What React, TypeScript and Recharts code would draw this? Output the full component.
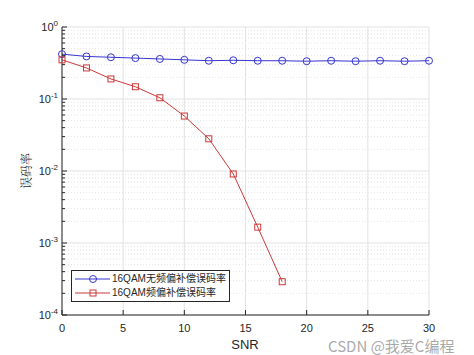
import { LineChart, Line, XAxis, YAxis, CartesianGrid, ReferenceLine } from 'recharts'

const snr = [0, 2, 4, 6, 8, 10, 12, 14, 16, 18, 20, 22, 24, 26, 28, 30]
// BER without frequency-offset compensation
const berNoComp = [0.42, 0.39, 0.38, 0.37, 0.36, 0.35, 0.34, 0.345, 0.34, 0.34, 0.335, 0.34, 0.335, 0.34, 0.335, 0.34]
// BER with compensation (ends at 18 dB)
const berComp = [0.35, 0.27, 0.19, 0.148, 0.104, 0.058, 0.028, 0.0091, 0.00166, 0.00029]

const xTicks = [0, 5, 10, 15, 20, 25, 30]
const decades = [1e-4, 1e-3, 1e-2, 1e-1, 1]
const minors = decades.slice(0, -1).flatMap(d => [2, 3, 4, 5, 6, 7, 8, 9].map(m => d * m))
const yTicks = [...decades, ...minors].sort((a, b) => a - b)

const names = ['16QAM无频偏补偿误码率', '16QAM频偏补偿误码率']

const data = snr.map((s, i) => ({
  snr: s,
  noComp: berNoComp[i],
  comp: berComp[i] ?? null,
}))

const BLUE = '#3535d2'
const RED = '#cc3838'
const AX = '#262626'
const FONT = '"Liberation Sans", Arial, "Noto Sans CJK SC", sans-serif'

const CircleDot = (p: any) =>
  p.cx == null || p.cy == null || p.value == null ? <g key={p.key} /> : (
    <circle key={p.key} cx={p.cx} cy={p.cy} r={3.5} fill="none" stroke={BLUE} strokeWidth={1} />
  )

const SquareDot = (p: any) =>
  p.cx == null || p.cy == null || p.value == null ? <g key={p.key} /> : (
    <rect key={p.key} x={p.cx - 3} y={p.cy - 3} width={6} height={6} fill="none" stroke={RED} strokeWidth={1} />
  )

const isDecade = (v: number) => decades.includes(v)

const YTickLeft = ({ x, y, payload }: any) => {
  const v = payload.value
  const major = isDecade(v)
  return (
    <g>
      <line x1={x} x2={x + (major ? 5 : 3)} y1={y} y2={y} stroke={AX} />
      {major && (
        <text x={x - 4} y={y + 4} textAnchor="end" fontSize={11} fill={AX} fontFamily={FONT}>
          10<tspan dy={-5} fontSize={8}>{Math.round(Math.log10(v))}</tspan>
        </text>
      )}
    </g>
  )
}

const YTickRight = ({ x, y, payload }: any) => {
  const major = isDecade(payload.value)
  return <line x1={x} x2={x - (major ? 5 : 3)} y1={y} y2={y} stroke={AX} />
}

const XTickBottom = ({ x, y, payload }: any) => (
  <g>
    <line x1={x} x2={x} y1={y} y2={y - 5} stroke={AX} />
    <text x={x} y={y + 17} textAnchor="middle" fontSize={11} fill={AX} fontFamily={FONT}>
      {payload.value}
    </text>
  </g>
)

const XTickTop = ({ x, y }: any) => <line x1={x} x2={x} y1={y} y2={y + 5} stroke={AX} />

const LegendBox = () => (
  <div
    style={{
      position: 'absolute',
      left: 63,
      top: 262,
      width: 157,
      border: `1px solid ${AX}`,
      background: '#fff',
      padding: '1px 0 1px 0',
      fontFamily: FONT,
      fontSize: 10,
      color: AX,
      lineHeight: '14px',
      whiteSpace: 'nowrap',
    }}
  >
    {names.map((n, i) => (
      <div key={n} style={{ display: 'flex', alignItems: 'center', height: 14 }}>
        <svg width={37} height={14} style={{ marginLeft: 3, flex: 'none' }}>
          <line x1={0} x2={35} y1={7} y2={7} stroke={i === 0 ? BLUE : RED} />
          {i === 0 ? (
            <circle cx={18} cy={7} r={3.5} fill="none" stroke={BLUE} />
          ) : (
            <rect x={15} y={4} width={6} height={6} fill="none" stroke={RED} />
          )}
        </svg>
        <span>{n}</span>
      </div>
    ))}
  </div>
)

export default function App() {
  return (
    <div style={{ position: 'relative', width: 466, height: 347 }}>
      <LineChart width={466} height={347} data={data} margin={{ top: 19, right: 45, bottom: 0, left: 0 }}>
        <CartesianGrid horizontal={false} stroke="#e2e2e2" />
        {minors.map(v => (
          <ReferenceLine key={v} y={v} stroke="#e4e4e4" strokeDasharray="1 2" />
        ))}
        {decades.map(v => (
          <ReferenceLine key={'d' + v} y={v} stroke="#e2e2e2" />
        ))}
        <XAxis
          dataKey="snr"
          type="number"
          domain={[0, 30]}
          ticks={xTicks}
          interval={0}
          height={40}
          tickSize={0}
          tickMargin={0}
          stroke={AX}
          tick={<XTickBottom />}
        />
        <XAxis
          xAxisId="t"
          orientation="top"
          type="number"
          domain={[0, 30]}
          ticks={xTicks}
          interval={0}
          height={0}
          tickSize={0}
          tickMargin={0}
          stroke={AX}
          tick={<XTickTop />}
        />
        <YAxis
          scale="log"
          domain={[1e-4, 1]}
          allowDataOverflow
          ticks={yTicks}
          interval={0}
          width={54}
          tickSize={0}
          tickMargin={0}
          stroke={AX}
          tick={<YTickLeft />}
        />
        <YAxis
          yAxisId="r"
          orientation="right"
          scale="log"
          domain={[1e-4, 1]}
          allowDataOverflow
          ticks={yTicks}
          interval={0}
          width={0}
          tickSize={0}
          tickMargin={0}
          stroke={AX}
          tick={<YTickRight />}
        />
        <Line
          dataKey="noComp"
          name={names[0]}
          stroke={BLUE}
          strokeWidth={1}
          dot={<CircleDot />}
          isAnimationActive={false}
        />
        <Line
          dataKey="comp"
          name={names[1]}
          stroke={RED}
          strokeWidth={1}
          dot={<SquareDot />}
          isAnimationActive={false}
        />
      </LineChart>
      <LegendBox />
      <div
        style={{
          position: 'absolute',
          left: 237,
          top: 330,
          transform: 'translateX(-50%)',
          fontFamily: FONT,
          fontSize: 13,
          color: AX,
          lineHeight: '14px',
        }}
      >
        SNR
      </div>
      <div
        style={{
          position: 'absolute',
          left: 17,
          top: 163,
          transform: 'translate(-50%, -50%) rotate(-90deg)',
          fontFamily: '"Noto Serif CJK SC", "Noto Sans CJK SC", serif',
          fontSize: 12,
          color: AX,
          whiteSpace: 'nowrap',
        }}
      >
        误码率
      </div>
      <div
        style={{
          position: 'absolute',
          left: 320,
          top: 330,
          fontFamily: '"Noto Sans CJK SC", sans-serif',
          fontSize: 15,
          color: 'rgba(140,140,140,0.75)',
          whiteSpace: 'nowrap',
          lineHeight: '15px',
        }}
      >
        CSDN @我爱C编程
      </div>
    </div>
  )
}
